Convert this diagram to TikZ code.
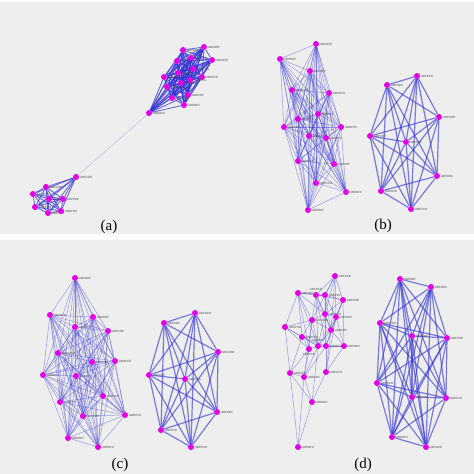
\documentclass[tikz,border=0pt]{standalone}
\usepackage{fontspec}
\setmainfont{Liberation Serif}
\setsansfont{Liberation Sans}
\usepackage{tikz}
\usetikzlibrary{positioning}

\definecolor{panelgray}{RGB}{238,238,238}
\definecolor{vxmag}{RGB}{228,0,228}
\definecolor{edgeblue}{RGB}{50,50,215}

\pgfdeclarelayer{panel}
\pgfdeclarelayer{edges}
\pgfsetlayers{panel,edges,main}

% all pairs of one cluster
\newcommand{\fullgraph}[3]{%
  \foreach \i in {1,...,#2}{\foreach \j in {\i,...,#2}{%
    \ifnum\i<\j \draw[#3] (#1\i) -- (#1\j);\fi}}}

\begin{document}
\begin{tikzpicture}[
        x=1pt, y=-1pt,
        vx/.style={circle, fill=vxmag, inner sep=0pt, minimum size=6pt},
        lbl/.style={font=\fontsize{3}{3}\selectfont\sffamily, text=black!70, inner sep=0.6pt},
        edge/.style={edgeblue, line width=0.5pt, opacity=0.45},
        denseedge/.style={edgeblue, line width=0.9pt, opacity=0.7},
        thickedge/.style={edgeblue, line width=1.2pt, opacity=0.62},
        capt/.style={font=\fontsize{15}{15}\selectfont, inner sep=0pt},
    ]
    \useasboundingbox (0,0) rectangle (474,474);

    % ---- PANELS ----
    \begin{pgfonlayer}{panel}
    \fill[white] (0,0) rectangle (474,474);
    \fill[panelgray] (0,2) rectangle (474,234);
    \fill[panelgray] (0,240) rectangle (474,474);
    \end{pgfonlayer}

    % ---- (a) ----
    \foreach \n/\x/\y/\t in {1/204/47/ABCDEF, 2/183/50/ABCEDF, 3/212/60/ABCDFE, 4/177/61/ABCFDE,
        5/191/58/ABCEFD, 6/193/69/ABCFED, 7/178/73/ABDCEF, 8/202/77/ABDCFE,
        9/164/77/ABDECF, 10/190/80/ABDEFC, 11/181/83/ABDFCE, 12/167/87/ABDFEC,
        13/188/95/ABECDF, 14/172/98/ABECFD, 15/184/105/ABEDCF, 16/149/113/ABEDFC}
        \node[vx, label={[lbl]right:\t}] (au\n) at (\x,\y) {};
    \foreach \n/\x/\y/\t in {1/76/177/ABFCED, 2/46/187/ABFCDE, 3/33/194/ABFDCE, 4/49/199/ABFDEC,
        5/63/199/ABFEDC, 6/35/207/ABFECD, 7/48/213/ABEFCD, 8/61/211/ABEFDC}
        \node[vx, label={[lbl]right:\t}] (ad\n) at (\x,\y) {};
    \begin{pgfonlayer}{edges}
    \fullgraph{au}{16}{denseedge}
    \fullgraph{ad}{8}{denseedge}
    \draw[edgeblue, line width=0.5pt, opacity=0.25] (au16) -- (ad1);
    \end{pgfonlayer}
    \node[capt] (capa) at (109,227) {(a)};

    % ---- (b) ----
    \foreach \n/\x/\y/\t in {1/316/44/ABCDFE, 2/280/59/ABCDEF, 3/310/71/ABCEDF, 4/292/90/ABCFDE,
        5/329/93/ABCEFD, 6/318/114/ABDCEF, 7/298/119/ABDCFE, 8/284/127/ABCFED,
        9/341/127/ABDFEC, 10/309/136/ABDECF, 11/326/138/ABDEFC, 12/298/161/ABDFCE,
        13/334/164/ABECDF, 14/316/183/ABECFD, 15/346/192/ABEDFC, 16/308/210/ABEDCF}
        \node[vx, label={[lbl]right:\t}] (bl\n) at (\x,\y) {};
    \foreach \n/\x/\y/\t in {1/417/76/ABFECD, 2/387/85/ABFEDC, 3/439/117/ABFCED, 4/370/136/ABFCDE,
        5/406/142/ABEFDC, 6/437/176/ABFDEC, 7/381/191/ABFDCE, 8/411/209/ABEFCD}
        \node[vx, label={[lbl]right:\t}] (br\n) at (\x,\y) {};
    \begin{pgfonlayer}{edges}
    \fullgraph{bl}{16}{edge}
    \fullgraph{br}{8}{thickedge}
    \end{pgfonlayer}
    \node[capt] (capb) at (383,226) {(b)};

    % ---- (c) ----
    \foreach \n/\x/\y/\t in {1/75/278/ABCDEF, 2/50/315/ABCDFE, 3/93/317/ABCEDF, 4/75/327/ABCEFD,
        5/108/331/ABCFDE, 6/58/353/ABCFED, 7/92/362/ABDCEF, 8/115/361/ABDCFE,
        9/43/375/ABDECF, 10/76/376/ABDEFC, 11/103/396/ABDFCE, 12/60/402/ABDFEC,
        13/83/416/ABECDF, 14/125/415/ABECFD, 15/68/438/ABEDCF, 16/98/447/ABEDFC}
        \node[vx, label={[lbl]right:\t}] (cl\n) at (\x,\y) {};
    \foreach \n/\x/\y/\t in {1/195/313/ABFECD, 2/164/323/ABFEDC, 3/218/352/ABFCED, 4/149/375/ABFCDE,
        5/185/379/ABEFDC, 6/217/412/ABFDEC, 7/161/430/ABFDCE, 8/191/447/ABEFCD}
        \node[vx, label={[lbl]right:\t}] (cr\n) at (\x,\y) {};
    \begin{pgfonlayer}{edges}
    \fullgraph{cl}{16}{edge}
    \fullgraph{cr}{8}{thickedge}
    \end{pgfonlayer}
    \node[capt] (capc) at (120,465) {(c)};

    % ---- (d) ----
    \foreach \n/\x/\y/\t/\s in {1/335/276/ABFCED/right, 2/298/293/ABCDEF/right, 3/316/295/ABCDFE/above, 4/325/295/ABCEDF/right,
        5/343/300/ABFCDE/right, 6/325/314/ABCEFD/right, 7/336/317/ABFDCE/right, 8/312/320/ABCFDE/right,
        9/285/327/ABCFED/right, 10/331/330/ABDCEF/right, 11/302/337/ABDCFE/right, 12/318/346/ABDECF/above,
        13/326/346/ABDEFC/right, 14/344/346/ABFDEC/right, 15/309/349/ABDFCE/below, 16/290/373/ABDFEC/right,
        17/304/377/ABECDF/right, 18/326/372/ABECFD/right, 19/312/402/ABEDCF/right, 20/298/447/ABEDFC/right}
        \node[vx, label={[lbl]\s:\t}] (dl\n) at (\x,\y) {};
    \foreach \n/\x/\y/\t in {1/400/279/ABEDEF, 2/431/287/ABFDEC, 3/380/323/ABFCED, 4/412/336/ABFEDC,
        5/447/338/ABFCDE, 6/377/383/ABFECD, 7/412/397/ABEFDC, 8/446/398/ABEFCD,
        9/392/437/ABEDFC, 10/426/447/ABFDCE}
        \node[vx, label={[lbl]right:\t}] (dr\n) at (\x,\y) {};
    \begin{pgfonlayer}{edges}
    \foreach \a/\b in {1/3,1/4,1/5,1/6,1/7,1/10,1/8,
        2/3,2/4,2/8,2/9,2/11,2/12,2/6,2/15,
        3/4,3/5,3/6,3/8,3/10,3/12,3/13,
        4/5,4/6,4/7,4/10,4/13,
        5/6,5/7,5/10,5/14,5/13,
        6/7,6/8,6/10,6/12,6/13,
        7/10,7/14,7/12,7/18,
        8/9,8/10,8/11,8/12,8/15,8/17,
        9/11,9/15,9/16,9/12,
        10/12,10/13,10/14,10/18,
        11/12,11/15,11/16,11/13,
        12/13,12/15,12/17,12/19,
        13/14,13/18,13/17,14/18,
        15/16,15/17,16/17,16/19,16/20,
        17/19,17/20,18/19,19/20}
        \draw[edge] (dl\a) -- (dl\b);
    \fullgraph{dr}{10}{thickedge}
    \end{pgfonlayer}
    \node[capt] (capd) at (363,465) {(d)};

\end{tikzpicture}
\end{document}
